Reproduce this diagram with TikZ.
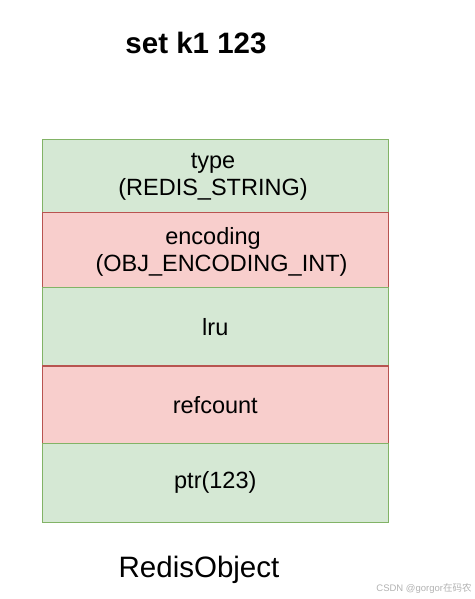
\documentclass[tikz,border=0pt]{standalone}
\usepackage{fontspec}
\setmainfont{Liberation Sans}
\newfontfamily\cjkfont{Noto Sans CJK SC}
\definecolor{gfill}{HTML}{D5E8D4}
\definecolor{gline}{HTML}{82B366}
\definecolor{rfill}{HTML}{F8CECC}
\definecolor{rline}{HTML}{B85450}
\begin{document}
\begin{tikzpicture}[x=1pt,y=-1pt,
  cell/.style={rectangle, minimum width=346pt, inner sep=0pt, line width=1.2pt,
    align=center, font=\fontsize{23.5}{27}\selectfont},
  gcell/.style={cell, fill=gfill, draw=gline},
  rcell/.style={cell, fill=rfill, draw=rline},
  lbl/.style={inner sep=0pt}
]
\useasboundingbox (0,0) rectangle (474,599);
\node[lbl, font=\fontsize{29.5}{32}\bfseries\selectfont] (title) at (196,43) {set k1 123};

\node[gcell, minimum height=73.4pt] (type) at (215.3,176) {};
\node[rcell, minimum height=74.8pt] (enc) at (215.3,250.1) {};
\node[gcell, minimum height=78.5pt] (lru) at (215.3,326.75) {};
\node[rcell, minimum height=77.3pt] (ref) at (215.3,404.65) {};
\node[gcell, minimum height=79.2pt] (ptr) at (215.3,482.9) {};

\node[lbl, align=center, font=\fontsize{23.5}{27}\selectfont] (typet) at (213,176.5) {type\\(REDIS\_STRING)};
\node[lbl, align=center, font=\fontsize{23.5}{27}\selectfont] (enct) at (213,252) {encoding\\\hspace*{17pt}(OBJ\_ENCODING\_INT)};
\node[lbl, font=\fontsize{23.5}{27}\selectfont] (lrut) at (lru) {lru};
\node[lbl, font=\fontsize{23.5}{27}\selectfont] (reft) at (ref) {refcount};
\node[lbl, font=\fontsize{23.5}{27}\selectfont] (ptrt) at (ptr) {ptr(123)};

\node[lbl, font=\fontsize{29.5}{32}\selectfont] (robj) at (199,570) {RedisObject};
\node[lbl, text=black!30, font=\fontsize{9.5}{11}\selectfont] (wm) at (424,588) {CSDN @gorgor{\cjkfont 在码农}};
\end{tikzpicture}
\end{document}
